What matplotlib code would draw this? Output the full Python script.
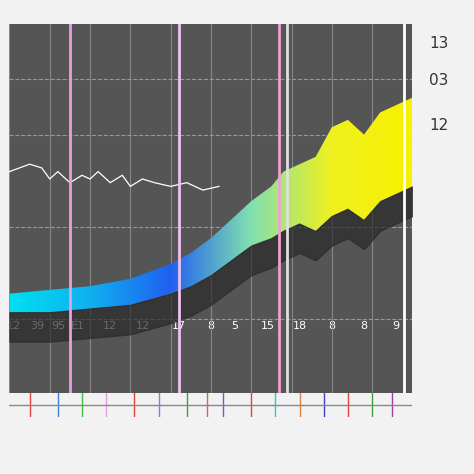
import numpy as np
import matplotlib.pyplot as plt
from matplotlib.path import Path
from matplotlib.patches import PathPatch
from matplotlib.colors import LinearSegmentedColormap

# ribbon data (x in 0..100)
x = [0, 10, 20, 30, 40, 45, 50, 55, 60, 65, 68, 72, 76, 80, 84, 88, 92, 96, 100]
upper = [27, 28, 29, 31, 35, 38, 42, 47, 52, 56, 60, 62, 64, 72, 74, 70, 76, 78, 80]
lower = [22, 22, 23, 24, 27, 29, 32, 36, 40, 42, 44, 46, 44, 48, 50, 47, 52, 54, 56]
# thin white line
lx = [0, 5, 8, 10, 12, 15, 18, 20, 22, 25, 28, 30, 33, 36, 40, 44, 48, 52]
ly = [60, 62, 61, 58, 60, 57, 59, 58, 60, 57, 59, 56, 58, 57, 56, 57, 55, 56]
# vertical bars
bar_x = [15, 42, 67, 69, 98]
bar_c = ['#e8a0e0', '#f0c0f0', '#f0a0d0', '#e0e0e0', '#ffffff']
# tick labels
xt = [1, 7, 12, 17, 25, 33, 42, 50, 56, 64, 72, 80, 88, 96]
xl = ['12', '39', '95', 'E1', '12', '12', '17', '8', '5', '15', '18', '8', '8', '9']
yt = [45, 73, 85, 95]
yl = ['', '12', '03', '13']
# bottom strip lines
strip_x = [5, 12, 18, 24, 31, 37, 44, 49, 53, 60, 66, 72, 78, 84, 90, 95]
strip_c = ['#e04040', '#4080e0', '#40c040', '#e0a0e0', '#e04040', '#8080e0',
           '#40a040', '#e06060', '#6060e0', '#e04040', '#40c0c0', '#e08040',
           '#4040c0', '#e04040', '#40a040', '#a040a0']

cmap = LinearSegmentedColormap.from_list('rib', ['#00e0f0', '#10b0f0', '#2060f0', '#80e0b0', '#f0f020', '#f8f000'])

fig = plt.figure(figsize=(4.74, 4.74), dpi=100)
fig.patch.set_facecolor('#f2f2f2')
ax = fig.add_axes([0.02, 0.17, 0.85, 0.78])
ax.set_facecolor('#555555')
ax.set_xlim(0, 100)
ax.set_ylim(0, 100)

for g in range(0, 101, 10):
    ax.axvline(g, color='#888888', lw=0.8)
for g in [20, 45, 70, 85]:
    ax.axhline(g, color='#999999', lw=0.8, ls='--')

# gradient ribbon
grad = np.linspace(0, 1, 256).reshape(1, -1)
im = ax.imshow(grad, extent=[0, 100, 0, 100], aspect='auto', cmap=cmap, zorder=3)
verts = list(zip(x, upper)) + list(zip(x[::-1], lower[::-1]))
path = Path(verts + [verts[0]], closed=True)
patch = PathPatch(path, facecolor='none', edgecolor='none')
ax.add_patch(patch)
im.set_clip_path(patch)
ax.fill_between(x, [l - 8 for l in lower], lower, color='#2a2a2a', alpha=0.7, zorder=2)

ax.plot(lx, ly, color='white', lw=0.9, zorder=4)
for bx, bc in zip(bar_x, bar_c):
    ax.axvline(bx, color=bc, lw=2, zorder=5)

ax.set_xticks(xt)
ax.set_xticklabels(xl, fontsize=8, color='white')
ax.tick_params(axis='x', pad=-52, length=0)
ax.yaxis.tick_right()
ax.set_yticks(yt)
ax.set_yticklabels(yl, fontsize=11, color='#333333')
ax.tick_params(axis='y', length=0, pad=12)
for s in ax.spines.values():
    s.set_visible(False)

# bottom strip
ax2 = fig.add_axes([0.02, 0.12, 0.85, 0.05])
ax2.set_xlim(0, 100)
ax2.set_ylim(0, 1)
ax2.set_facecolor('white')
for sx, sc in zip(strip_x, strip_c):
    ax2.axvline(sx, color=sc, lw=1)
ax2.axhline(0.5, color='#888888', lw=1)
ax2.axis('off')

fig.savefig('out.png', dpi=100)
